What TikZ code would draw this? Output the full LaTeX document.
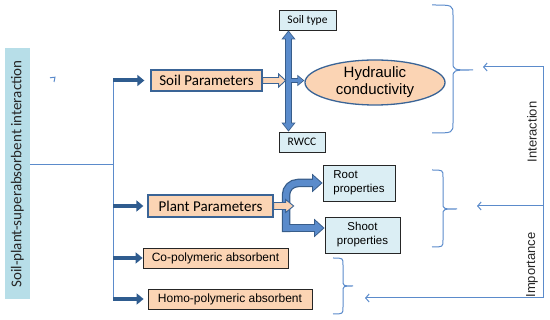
\documentclass[tikz,border=0pt]{standalone}
\usepackage{fontspec}
\setmainfont{Carlito}
\newfontfamily\arial{Liberation Sans}
\usetikzlibrary{arrows.meta,shapes.geometric,calc}
\definecolor{peach}{HTML}{FBD4B4}
\definecolor{lblue}{HTML}{DBEEF4}
\definecolor{barblue}{HTML}{B7DEE8}
\definecolor{bord}{HTML}{3A6496}
\definecolor{thinblue}{HTML}{5B8BCB}
\definecolor{dkarrow}{HTML}{2F5C8F}
\definecolor{midblue}{HTML}{5A8BCB}
\definecolor{arrowedge}{HTML}{385D8A}
\tikzset{
  peachbox/.style={draw=bord, line width=1.3pt, fill=peach, inner sep=0pt, font=\fontsize{15}{18}\selectfont},
  peachboxb/.style={draw=black!85, line width=0.8pt, fill=peach, inner sep=0pt, font=\arial\fontsize{12}{14}\selectfont},
  bluebox/.style={draw=black!85, line width=0.8pt, fill=lblue, inner sep=0pt},
  branch/.style={dkarrow, line width=4pt, -{Triangle[width=11pt,length=7pt]}},
  thinline/.style={thinblue, line width=1pt},
  barb/.style={thinblue, line width=1pt, -{Straight Barb[length=3.5pt,width=8pt]}},
  bandout/.style={arrowedge, line width=8.5pt, -{Triangle[width=18pt,length=10.5pt]}},
  bandin/.style={midblue, line width=6pt, shorten >=1.5pt, -{Triangle[width=14pt,length=8pt]}},
  dblout/.style={arrowedge, line width=6.5pt, {Triangle[width=13.5pt,length=9pt]}-{Triangle[width=13.5pt,length=9pt]}},
  dblin/.style={midblue, line width=4.5pt, shorten >=1.3pt, shorten <=1.3pt, {Triangle[width=10.5pt,length=7pt]}-{Triangle[width=10.5pt,length=7pt]}},
  smallout/.style={arrowedge, line width=4.5pt, -{Triangle[width=11pt,length=7pt]}},
  smallin/.style={midblue, line width=2.8pt, shorten >=1.2pt, -{Triangle[width=8pt,length=5.2pt]}},
  peacharrow/.style={fill=peach, draw=bord, line width=0.9pt, line join=miter},
  bracestyle/.style={thinblue, line width=1pt},
}
\newcommand\mybrc[8]{% x0 x1 x2 y0 ym y1 rEnd rTip
  \draw[bracestyle] (#1,#4) .. controls (#2,#4) .. (#2,#4+#7) -- (#2,#5-#8)
    .. controls (#2,#5) .. (#3,#5) .. controls (#2,#5) .. (#2,#5+#8)
    -- (#2,#6-#7) .. controls (#2,#6) .. (#1,#6);}
\begin{document}
\begin{tikzpicture}[x=1pt,y=-1pt]
\useasboundingbox (0,0) rectangle (550,320);
% left bar
\node[rotate=90, fill=barblue, minimum width=251pt, minimum height=25pt, inner sep=0pt,
  font=\fontsize{15}{18}\selectfont, text=black!85] (bar) at (17.5,174) {Soil-plant-superabsorbent interaction};
% stray mark
\draw[thinline] (50,77.8) -- (55,77.2) -- (54,82);
% boxes
\node[peachbox, minimum width=111pt, minimum height=21pt] (sp) at (206.5,80.5) {Soil Parameters};
\node[peachbox, minimum width=125pt, minimum height=22pt] (pp) at (210.5,206) {Plant Parameters};
\node[peachboxb, minimum width=145pt, minimum height=20pt] (cp) at (215.5,258) {Co-polymeric absorbent};
\node[peachboxb, minimum width=164pt, minimum height=20pt] (hp) at (230,299) {Homo-polymeric absorbent};
\node[bluebox, minimum width=57pt, minimum height=20pt, font=\fontsize{11.5}{13}\selectfont] (st) at (307.5,20) {Soil type};
\node[bluebox, minimum width=46pt, minimum height=20pt, font=\fontsize{11.5}{13}\selectfont] (rw) at (302,142) {RWCC};
\node[ellipse, draw=bord, line width=1.3pt, fill=peach, minimum width=140pt, minimum height=45pt, inner sep=0pt,
  align=center, font=\arial\fontsize{15}{17}\selectfont] (hc) at (375,82.5) {Hydraulic\\conductivity};
\node[bluebox, minimum width=72pt, minimum height=36pt, align=left, font=\arial\fontsize{11.5}{14}\selectfont] (rp) at (359,183) {Root\\properties};
\node[bluebox, minimum width=75pt, minimum height=36pt, align=center, font=\arial\fontsize{11.5}{14}\selectfont] (sh) at (362.5,235) {Shoot\\properties};
\node[rotate=90, font=\arial\fontsize{13}{15}\selectfont, text=black!85] (int) at (532,132) {Interaction};
\node[rotate=90, font=\arial\fontsize{13}{15}\selectfont, text=black!85] (imp) at (532,265) {Importance};
% trunk
\coordinate (tr) at (113,165);
\coordinate (trtop) at (113,80.5);
\coordinate (trbot) at (113,299);
\draw[thinline] (bar.south |- tr) -- (tr);
\draw[thinline] (trtop) -- (trbot);
\draw[branch, shorten >=6pt] (trtop) -- (sp.west);
\draw[branch, shorten >=4pt] (trtop |- pp.west) -- (pp.west);
\draw[branch] (trtop |- cp.west) -- (cp.west);
\draw[branch, shorten >=4pt] (trbot) -- (hp.west);
% soil arrows
\coordinate (vb) at (288.5,80.5);
\draw[dblout] (st.south -| vb) -- (rw.north -| vb);
\draw[dblin] (st.south -| vb) -- (rw.north -| vb);
\filldraw[peacharrow] ($(sp.east)+(0,-3)$) -- ++(16,0) -- ++(0,-3.5) -- ++(7,6.5) -- ++(-7,6.5) -- ++(0,-3.5) -- ($(sp.east)+(0,3)$) -- cycle;
\draw[smallout] ($(vb)+(3,0)$) -- (vb -| hc.west);
\draw[smallin] ($(vb)+(2.2,0)$) -- (vb -| hc.west);
% plant arrows
\coordinate (pb) at (286,228);
\draw[bandout, rounded corners=12pt] ($(pb)+(0,4.2)$) |- (rp.west);
\draw[bandout] ($(pb)+(-4.2,0)$) -- (pb -| sh.west);
\draw[bandin, rounded corners=12pt] ($(pb)+(0,3)$) |- (rp.west);
\draw[bandin] ($(pb)+(-3,0)$) -- (pb -| sh.west);
\filldraw[peacharrow] ($(pp.east)+(0,-3.5)$) -- ++(12,0) -- ++(0,-3) -- ++(8,6.5) -- ++(-8,6.5) -- ++(0,-3) -- ($(pp.east)+(0,3.5)$) -- cycle;
% braces
\mybrc{432}{453}{473}{5}{70}{133}{10}{8}
\mybrc{432}{443}{457}{170}{209}{247}{7}{6}
\mybrc{333}{343}{353}{258}{286}{314}{7}{6}
\coordinate (t1) at (483,67);
\coordinate (t2) at (477,206);
\coordinate (t3) at (365,298);
\coordinate (fr) at (543,67);
\draw[thinblue, line width=1pt, {Straight Barb[length=3.5pt,width=8pt]}-{Straight Barb[length=3.5pt,width=8pt]}] (t1) -- (fr) |- (t3);
\draw[barb] (fr |- t2) -- (t2);
\end{tikzpicture}
\end{document}
